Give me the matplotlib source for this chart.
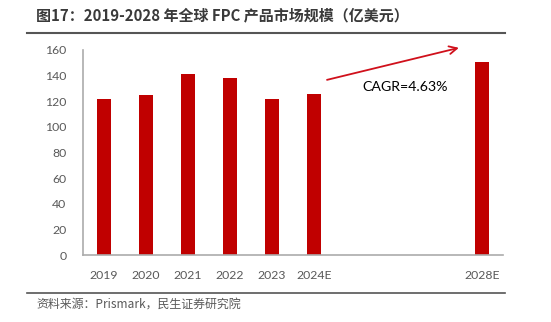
import matplotlib
matplotlib.use("Agg")
import matplotlib.pyplot as plt
from matplotlib.lines import Line2D

plt.rcParams['font.family'] = ['Lato', 'Noto Sans CJK SC', 'DejaVu Sans']

categories = ["2019", "2020", "2021", "2022", "2023", "2024E", "2028E"]
positions = [0, 1, 2, 3, 4, 5, 9]
values = [122, 125, 141, 138, 122, 126, 151]
yticks = [0, 20, 40, 60, 80, 100, 120, 140, 160]
title = "图17：2019-2028 年全球 FPC 产品市场规模（亿美元）"
source = "资料来源：Prismark，民生证券研究院"
cagr_text = "CAGR=4.63%"

fig = plt.figure(figsize=(5.51, 3.22), dpi=100)
ax = fig.add_axes([83/551, 1-255/322, (503-83)/551, (255-50)/322])

ax.bar(positions, values, width=0.32, color="#C00000", zorder=2)
ax.set_xlim(-0.5, 9.5)
ax.set_ylim(0, 160)
ax.set_yticks(yticks)
ax.set_xticks(positions)
ax.set_xticklabels(categories)
ax.tick_params(axis='both', length=0, colors="#595959", labelsize=8.8)
ax.tick_params(axis='y', pad=12)
ax.tick_params(axis='x', pad=11)
for s in ["top", "right"]:
    ax.spines[s].set_visible(False)
for s in ["left", "bottom"]:
    ax.spines[s].set_color("#ABABAB")
    ax.spines[s].set_linewidth(1.2)

ax.annotate("", xy=(8.45, 161.7), xytext=(5.31, 136.7),
            arrowprops=dict(arrowstyle="->", color="#D0101B", lw=1.3,
                            mutation_scale=14, shrinkA=0, shrinkB=0),
            annotation_clip=False)
ax.text(7.17, 131.5, cagr_text, ha="center", va="center", fontsize=10.2, color="black")

fig.text(36/551, 1-15/322, title, ha="left", va="center", fontsize=10.8,
         fontweight="bold", color="#3A3A3A",
         family=['Noto Sans CJK SC', 'DejaVu Sans'])
fig.add_artist(Line2D([27/551, 505/551], [1-33/322, 1-33/322], color="#555555", lw=1.5))
fig.add_artist(Line2D([27/551, 505/551], [1-292.7/322, 1-292.7/322], color="#555555", lw=1.2))
fig.text(36/551, 1-304/322, source, ha="left", va="center", fontsize=8.6,
         color="#595959", family=['Noto Sans CJK SC', 'DejaVu Sans'])

fig.savefig("out.png", dpi=100)
